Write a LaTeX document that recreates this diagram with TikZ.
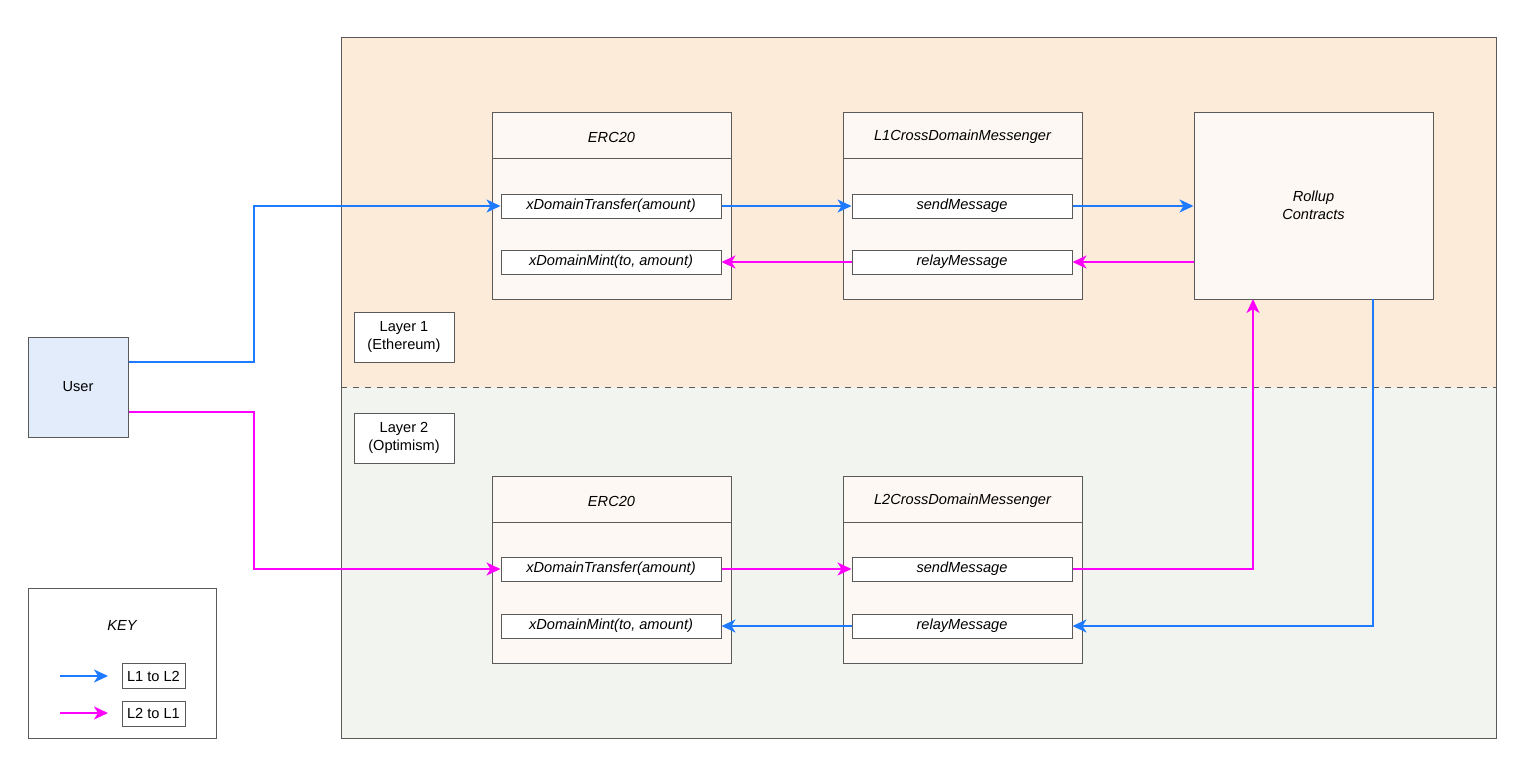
\documentclass[tikz,border=0pt]{standalone}
\usepackage{fontspec}
\setmainfont{Liberation Sans}
\usetikzlibrary{arrows.meta}
\definecolor{bl}{HTML}{1E7BFF}
\definecolor{mg}{HTML}{FF00FF}
\definecolor{lone}{HTML}{FDEBDA}
\definecolor{ltwo}{HTML}{F2F4F0}
\definecolor{boxf}{HTML}{FDF8F3}
\definecolor{userf}{HTML}{E2ECFA}
\definecolor{ln}{HTML}{5A5A5A}
\begin{document}
\begin{tikzpicture}[x=0.5pt,y=-0.5pt,font=\fontsize{7.3}{8.8}\selectfont,
  bx/.style={draw=ln,line width=0.5pt},
  meth/.style={draw=ln,fill=white,line width=0.5pt,minimum width=110pt,minimum height=12pt,inner sep=0pt,font=\fontsize{7.3}{8.8}\selectfont\itshape},
  arrb/.style={-{Stealth[length=7pt,width=6.5pt,inset=2pt]},bl,line width=0.9pt},
  arrm/.style={-{Stealth[length=7pt,width=6.5pt,inset=2pt]},mg,line width=0.9pt}]
\useasboundingbox (0,0) rectangle (1536,756);
\fill[white] (0,0) rectangle (1536,756);
% layers
\fill[lone] (341,37) rectangle (1496,387);
\fill[ltwo] (341,387) rectangle (1496,738);
\draw[ln,line width=0.5pt] (341,37) rectangle (1496,738);
\draw[ln,dashed,line width=0.5pt] (341,387) -- (1496,387);
\node[bx,fill=white,minimum width=50pt,minimum height=25pt,align=center,inner sep=0pt] (lay1) at (404,337) {Layer 1\\(Ethereum)};
\node[bx,fill=white,minimum width=50pt,minimum height=25pt,align=center,inner sep=0pt] (lay2) at (404,438) {Layer 2\\(Optimism)};
% containers
\foreach \nm/\x/\y/\t in {e1/492/112/ERC20, m1/843/112/L1CrossDomainMessenger, e2/492/476/ERC20, m2/843/476/L2CrossDomainMessenger}{
  \draw[bx,fill=boxf] (\x,\y) rectangle ++(239,187);
  \draw[ln,line width=0.5pt] (\x,\y+46) -- ++(239,0);
  \node[font=\fontsize{7.3}{8.8}\selectfont\itshape] (\nm t) at (\x+119.5,\y+25) {\t};
}
\node[bx,fill=boxf,minimum width=119.5pt,minimum height=93.5pt,align=center,font=\fontsize{7.3}{8.8}\selectfont\itshape] (roll) at (1313.5,205.5) {Rollup\\Contracts};
\node[meth] (e1a) at (611,206) {xDomainTransfer(amount)};
\node[meth] (e1b) at (611,262) {xDomainMint(to, amount)};
\node[meth] (m1a) at (962,206) {sendMessage};
\node[meth] (m1b) at (962,262) {relayMessage};
\node[meth] (e2a) at (611,569) {xDomainTransfer(amount)};
\node[meth] (e2b) at (611,626) {xDomainMint(to, amount)};
\node[meth] (m2a) at (962,569) {sendMessage};
\node[meth] (m2b) at (962,626) {relayMessage};
% user
\node[bx,fill=userf,minimum width=50pt,minimum height=50pt] (user) at (78,387) {User};
% key
\draw[bx,fill=white] (28,588) rectangle (216,738);
\node[font=\fontsize{7.3}{8.8}\selectfont\itshape] (keyt) at (122,625) {KEY};
\node[bx,fill=white,minimum width=31.5pt,minimum height=12.5pt,inner sep=0pt] (k1) at (153.5,676) {L1 to L2};
\node[bx,fill=white,minimum width=31.5pt,minimum height=12.5pt,inner sep=0pt] (k2) at (153.5,713.5) {L2 to L1};
\coordinate (k1s) at (60,676); \coordinate (k1e) at (108,676);
\coordinate (k2s) at (60,713); \coordinate (k2e) at (108,713);
\draw[arrb] (k1s) -- (k1e);
\draw[arrm] (k2s) -- (k2e);
% connectors
\draw[arrb] ([yshift=12.5pt]user.east) -- (254,362) |- (e1a.west);
\draw[arrb] (e1a) -- (m1a);
\draw[arrb] (m1a.east) -- (m1a.east -| roll.west);
\draw[arrm] (roll.west |- m1b) -- (m1b.east);
\draw[arrm] (m1b) -- (e1b);
\draw[arrm] ([yshift=-12.5pt]user.east) -- (254,412) |- (e2a.west);
\draw[arrm] (e2a) -- (m2a);
\draw[arrm] (m2a.east) -- (1253,569) -- (1253,299);
\draw[arrb] (1373,299) -- (1373,626) -- (m2b.east);
\draw[arrb] (m2b) -- (e2b);
\end{tikzpicture}
\end{document}
